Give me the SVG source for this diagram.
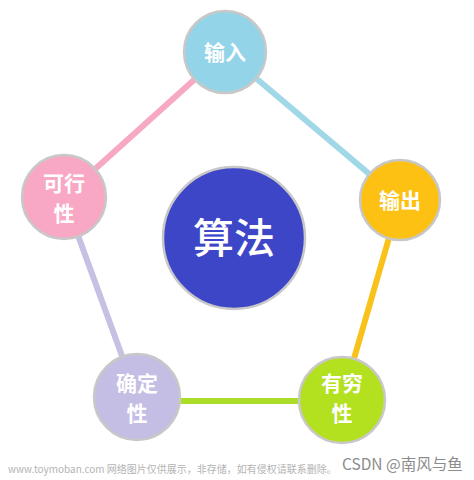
<svg xmlns="http://www.w3.org/2000/svg" width="474" height="480" viewBox="0 0 474 480">
<style>
.node circle{stroke:#c8c8c8;stroke-width:2.5}
.lbl{font-family:"Noto Sans CJK SC","Noto Sans",sans-serif;font-weight:bold;fill:#ffffff;font-size:21px;text-anchor:middle}
.big{font-size:41px;font-weight:500}
.edge{stroke-width:6;stroke-linecap:butt;fill:none}
.wm{font-family:"Noto Sans CJK SC","DejaVu Sans",sans-serif;fill:#b4b4b4;font-size:10px}
.wm2{font-family:"Noto Sans CJK SC","DejaVu Sans",sans-serif;fill:#8c8c8c;font-size:15.5px}
</style>
<rect width="474" height="480" fill="#ffffff"/>
<g id="connectors">
<line class="edge" x1="225" y1="52" x2="400" y2="200" stroke="#a0d8e8"/>
<line class="edge" x1="225" y1="52" x2="64" y2="197" stroke="#f7a9c3"/>
<line class="edge" x1="400" y1="200" x2="342" y2="400" stroke="#f9c21a"/>
<line class="edge" x1="342" y1="401" x2="137" y2="401" stroke="#a9dd28"/>
<line class="edge" x1="137" y1="397" x2="64" y2="197" stroke="#c6c0e2"/>
</g>
<g id="n-center" class="node">
<circle cx="234" cy="238" r="71" fill="#3e46c8"/>
<text class="lbl big" x="234" y="253">算法</text>
</g>
<g id="n-input" class="node">
<circle cx="225" cy="52" r="41" fill="#93d4e8"/>
<text class="lbl" x="225" y="60">输入</text>
</g>
<g id="n-output" class="node">
<circle cx="400" cy="200" r="40" fill="#fcc113"/>
<text class="lbl" x="400" y="208">输出</text>
</g>
<g id="n-finite" class="node">
<circle cx="342" cy="400" r="43" fill="#b3e01f"/>
<text class="lbl" x="342" y="391">有穷</text>
<text class="lbl" x="342" y="421">性</text>
</g>
<g id="n-definite" class="node">
<circle cx="137" cy="397" r="43" fill="#c4bde4"/>
<text class="lbl" x="137" y="391">确定</text>
<text class="lbl" x="137" y="421">性</text>
</g>
<g id="n-feasible" class="node">
<circle cx="64" cy="197" r="42" fill="#f8a8c5"/>
<text class="lbl" x="64" y="191">可行</text>
<text class="lbl" x="64" y="221">性</text>
</g>
<text class="wm" x="8" y="473">www.toymoban.com 网络图片仅供展示，非存储，如有侵权请联系删除。</text>
<text class="wm2" x="342" y="470">CSDN @南风与鱼</text>
</svg>
